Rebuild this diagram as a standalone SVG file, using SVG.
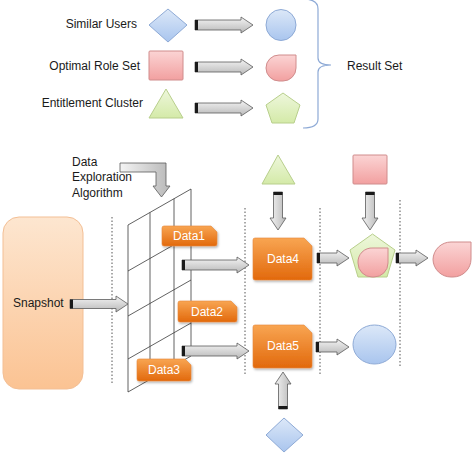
<svg xmlns="http://www.w3.org/2000/svg" width="474" height="456" viewBox="0 0 474 456">
<style>
text{font-family:"Liberation Sans",Arial,sans-serif;font-size:12px;fill:#1a1a1a}
.dl{fill:#fff;text-anchor:middle}
.arr{fill:url(#gArrH);stroke:#5a5a5a;stroke-width:0.8}
.arv{fill:url(#gArrV);stroke:#5a5a5a;stroke-width:0.8}
.tail{fill:#1a1a1a}
.blue{fill:url(#gBlue);stroke:#8eaad6;stroke-width:1}
.pink{fill:url(#gPink);stroke:#d08c8c;stroke-width:1}
.green{fill:url(#gGreen);stroke:#b8cf8c;stroke-width:1}
.org{fill:url(#gOrg);stroke:#e8883a;stroke-width:0.6;filter:url(#sh)}
.grid{stroke:#3a3a3a;stroke-width:0.8;fill:none}
.dot{stroke:#555;stroke-width:1;stroke-dasharray:1.5 2;fill:none}
</style>
<defs>
<linearGradient id="gArrH" x1="0" y1="0" x2="0" y2="1"><stop offset="0" stop-color="#f4f4f4"/><stop offset="1" stop-color="#b8b8b8"/></linearGradient>
<linearGradient id="gArrV" x1="0" y1="0" x2="1" y2="0"><stop offset="0" stop-color="#f4f4f4"/><stop offset="1" stop-color="#b8b8b8"/></linearGradient>
<linearGradient id="gBlue" x1="0" y1="0" x2="0" y2="1"><stop offset="0" stop-color="#dce8f8"/><stop offset="1" stop-color="#a9c5ee"/></linearGradient>
<linearGradient id="gPink" x1="0" y1="0" x2="0" y2="1"><stop offset="0" stop-color="#fbd4d4"/><stop offset="1" stop-color="#f2a0a0"/></linearGradient>
<linearGradient id="gGreen" x1="0" y1="0" x2="0" y2="1"><stop offset="0" stop-color="#eef7dc"/><stop offset="1" stop-color="#d4eaa8"/></linearGradient>
<linearGradient id="gOrg" x1="0" y1="0" x2="0" y2="1"><stop offset="0" stop-color="#f8a552"/><stop offset="1" stop-color="#e2690c"/></linearGradient>
<linearGradient id="gSnap" x1="0" y1="0" x2="0" y2="1"><stop offset="0" stop-color="#fde6d0"/><stop offset="1" stop-color="#fbc393"/></linearGradient>
<filter id="sh" x="-20%" y="-20%" width="150%" height="160%"><feDropShadow dx="1" dy="1.5" stdDeviation="1" flood-color="#000" flood-opacity="0.3"/></filter>
</defs>

<!-- Legend -->
<g id="legend-similar-users">
<text x="137" y="28" text-anchor="end">Similar Users</text>
<polygon class="blue" points="168,9 187,25 168,42 149,25"/>
</g>
<g id="legend-optimal-role-set">
<text x="140" y="70" text-anchor="end">Optimal Role Set</text>
<rect class="pink" x="149" y="51" width="34" height="29" rx="1"/>
</g>
<g id="legend-entitlement-cluster">
<text x="143" y="107" text-anchor="end">Entitlement Cluster</text>
<polygon class="green" points="166,89 183,118 149,118"/>
</g>
<g id="result-circle"><ellipse class="blue" cx="281" cy="25" rx="15" ry="15.5"/></g>
<g id="result-teardrop"><path class="pink" d="M279,55 H296 V68 A13 13 0 0 1 283,81 H279 A13 13 0 0 1 266,68 A13 13 0 0 1 279,55 Z"/></g>
<g id="result-pentagon"><polygon class="green" points="283,93 300,105 294,123 272,123 266,105"/></g>
<g id="result-set">
<path d="M303,-1 Q318,-1 318,9 V58 Q318,65 331,65 Q318,65 318,72 V119 Q318,128 303,128" fill="none" stroke="#8eaad6" stroke-width="1.2"/>
<text x="347" y="70">Result Set</text>
</g>

<!-- Flow nodes -->
<g id="algorithm-label">
<text x="72" y="166">Data</text>
<text x="72" y="181">Exploration</text>
<text x="72" y="197">Algorithm</text>
</g>
<g id="snapshot">
<rect x="3" y="217" width="80" height="172" rx="16" fill="url(#gSnap)" stroke="#f3bf95" stroke-width="1"/>
<text x="13" y="307">Snapshot</text>
</g>
<g id="grid">
<polygon class="grid" points="128,225 191,189 191,356 128,392"/>
<line class="grid" x1="150" y1="212.4" x2="150" y2="379.4"/>
<line class="grid" x1="174" y1="198.7" x2="174" y2="365.7"/>
<line class="grid" x1="128" y1="271" x2="191" y2="235"/>
<line class="grid" x1="128" y1="316" x2="191" y2="280"/>
<line class="grid" x1="128" y1="359" x2="191" y2="323"/>
</g>
<g id="data1"><path class="org" d="M164,226 H211 L217,232 V244 Q217,246 215,246 H164 Q162,246 162,244 V228 Q162,226 164,226 Z"/><text class="dl" x="189" y="240">Data1</text></g>
<g id="data2"><path class="org" d="M180,301 H231 L237,307 V320 Q237,322 235,322 H180 Q178,322 178,320 V303 Q178,301 180,301 Z"/><text class="dl" x="207" y="316">Data2</text></g>
<g id="data3"><path class="org" d="M139,359 H185 L191,365 V379 Q191,381 189,381 H139 Q137,381 137,379 V361 Q137,359 139,359 Z"/><text class="dl" x="164" y="374">Data3</text></g>
<g id="data4"><path class="org" d="M255,238 H304 L312,246 V278 Q312,280 310,280 H255 Q253,280 253,278 V240 Q253,238 255,238 Z"/><text class="dl" x="283" y="263">Data4</text></g>
<g id="data5"><path class="org" d="M255,325 H304 L312,333 V366 Q312,368 310,368 H255 Q253,368 253,366 V327 Q253,325 255,325 Z"/><text class="dl" x="283" y="350">Data5</text></g>
<g id="input-triangle"><polygon class="green" points="278,155 295,184 262,184"/></g>
<g id="input-square"><rect class="pink" x="353" y="155" width="34" height="29" rx="1"/></g>
<g id="merge-pentagon">
<polygon class="green" points="372.5,234 395,250 387,277 358,277 350,250"/>
<path class="pink" d="M373,248 H388 V263 A14 14 0 0 1 374,277 H372 A14 14 0 0 1 358,263 A14 14 0 0 1 373,248 Z"/>
</g>
<g id="output-teardrop"><path class="pink" d="M451,242 H471 V259 A18 18 0 0 1 453,277 H451 A18 18 0 0 1 433,259.5 A18 18 0 0 1 451,242 Z"/></g>
<g id="output-circle"><ellipse class="blue" cx="374.5" cy="344.5" rx="21.5" ry="19.5"/></g>
<g id="input-diamond"><polygon class="blue" points="284,418 303,435 284,452 266,435"/></g>

<!-- Connectors -->
<g id="connectors">
<line class="dot" x1="112" y1="217" x2="112" y2="383"/>
<line class="dot" x1="245" y1="208" x2="245" y2="375"/>
<line class="dot" x1="320" y1="208" x2="320" y2="375"/>
<line class="dot" x1="400" y1="200" x2="400" y2="367"/>

<path class="arr" d="M195,20 H241 V17 L253,25 L241,33 V30 H195 Z"/><rect class="tail" x="195" y="20" width="3" height="10"/>
<path class="arr" d="M195,62 H241 V59 L253,67 L241,75 V72 H195 Z"/><rect class="tail" x="195" y="62" width="3" height="10"/>
<path class="arr" d="M195,103 H241 V100 L253,108 L241,116 V113 H195 Z"/><rect class="tail" x="195" y="103" width="3" height="10"/>

<path class="arv" d="M120,163 H166 V186 H170 L161.5,197 L153,186 H156 V172 H120 Z"/>

<path class="arr" d="M70,299.5 H116 V296 L128,304 L116,312 V308.5 H70 Z"/><rect class="tail" x="70" y="299.5" width="3" height="9"/>
<path class="arr" d="M182,260 H237 V257 L249,265 L237,273 V270 H182 Z"/><rect class="tail" x="182" y="260" width="3" height="10"/>
<path class="arr" d="M182,346 H237 V343 L249,351 L237,359 V356 H182 Z"/><rect class="tail" x="182" y="346" width="3" height="10"/>
<path class="arr" d="M317,253 H337 V250 L349,258 L337,266 V263 H317 Z"/><rect class="tail" x="317" y="253" width="3" height="10"/>
<path class="arr" d="M396,253 H416 V250 L428,258 L416,266 V263 H396 Z"/><rect class="tail" x="396" y="253" width="3" height="10"/>
<path class="arr" d="M316,342 H337 V339 L349,347 L337,355 V352 H316 Z"/><rect class="tail" x="316" y="342" width="3" height="10"/>

<path class="arv" d="M273.5,192 V218 H270 L278,230 L286,218 H282.5 V192 Z"/><rect class="tail" x="273.5" y="192" width="9" height="3"/>
<path class="arv" d="M365.5,192 V218 H362 L370,230 L378,218 H374.5 V192 Z"/><rect class="tail" x="365.5" y="192" width="9" height="3"/>
<path class="arv" d="M278.5,409 V384 H275 L283,372 L291,384 H287.5 V409 Z"/><rect class="tail" x="278.5" y="406" width="9" height="3"/>
</g>
</svg>
